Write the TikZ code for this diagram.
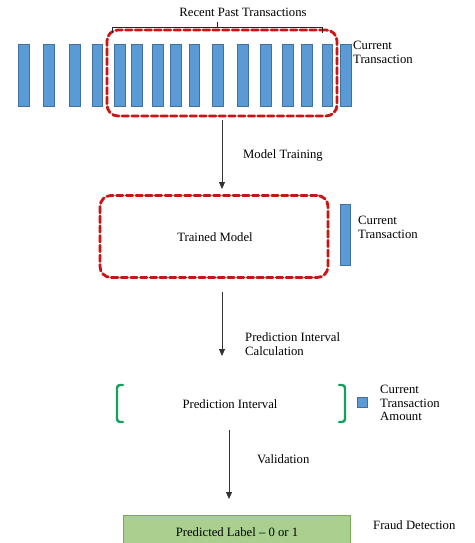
\documentclass[tikz,border=0pt]{standalone}
\usepackage{fontspec}
\setmainfont{Liberation Serif}
\usetikzlibrary{arrows.meta}
\definecolor{barblue}{RGB}{91,155,213}
\definecolor{baredge}{RGB}{65,113,156}
\definecolor{dashred}{RGB}{204,20,20}
\definecolor{brgreen}{RGB}{20,160,90}
\definecolor{boxgreen}{RGB}{169,208,142}
\definecolor{boxedge}{RGB}{120,170,90}
\tikzset{
  bar/.style={draw=baredge, line width=0.3pt, fill=barblue, minimum width=10.5pt, minimum height=62pt, inner sep=0pt},
  redbox/.style={draw=dashred, line width=2.8pt, dash pattern=on 6.5pt off 3.2pt, line cap=round, rounded corners=11pt},
  txt/.style={font=\fontsize{12.7}{13.8}\selectfont, inner sep=0pt, align=left},
  ctxt/.style={font=\fontsize{12.7}{13.8}\selectfont, inner sep=0pt, align=center},
  arr/.style={draw=black!80, line width=0.8pt, -{Triangle[width=6pt,length=7pt]}},
  brk/.style={draw=brgreen, line width=2.4pt, line cap=round, rounded corners=3pt}
}
\begin{document}
\begin{tikzpicture}[x=1pt,y=-1pt]
\useasboundingbox (0,0) rectangle (474,543);
% bars
\foreach \i/\x in {1/23.5,2/48.5,3/74.5,4/97,5/119.5,6/136.5,7/157.5,8/175.5,9/194,10/217.5,11/242.5,12/265.5,13/287.5,14/306.5,15/327,16/345.5}{
  \node[bar] (b\i) at (\x,75) {};
}
% red dashed box
\node[redbox, minimum width=230pt, minimum height=86pt] (past) at (222,73) {};
% brace
\draw[black!85, line width=0.6pt] (112,33) -- (112,27.5) -- (322,27.5) -- (322,33);
\draw[black!85, line width=0.6pt] (217,27.5) -- (217,22);
\node[ctxt] (rpt) at (243,12) {Recent Past Transactions};
\node[txt, anchor=west] (ct1) at (353,52) {Current\\Transaction};
% trained model
\node[redbox, minimum width=228pt, minimum height=82pt] (tm) at (214,236.5) {};
\node[ctxt] (tmt) at (215,237) {Trained Model};
\node[bar, minimum height=61pt] (cb) at (345,234.5) {};
\node[txt, anchor=west] (ct2) at (358,227) {Current\\Transaction};
% arrow 1
\coordinate (a1s) at (222,120);
\coordinate (a1e) at (222,189);
\draw[arr] (a1s) -- (a1e);
\node[txt, anchor=west] (mt) at (243,155) {Model Training};
% arrow 2
\coordinate (a2s) at (222,292);
\coordinate (a2e) at (222,356);
\draw[arr] (a2s) -- (a2e);
\node[txt, anchor=west] (pic) at (245,344) {Prediction Interval\\Calculation};
% prediction interval
\draw[brk] (123,385) -- (117,385) -- (117,422) -- (123,422);
\draw[brk] (339,385) -- (345,385) -- (345,422) -- (339,422);
\coordinate (pil) at (117,403.5);
\coordinate (pir) at (345,403.5);
\node[ctxt] (pit) at (230,404) {Prediction Interval};
\node[draw=baredge, line width=0.3pt, fill=barblue, minimum size=10pt, inner sep=0pt] (sq) at (362,402) {};
\node[txt, anchor=west] (cta) at (380,403) {Current\\Transaction\\Amount};
% arrow 3
\coordinate (a3s) at (229,430);
\coordinate (a3e) at (229,499);
\draw[arr] (a3s) -- (a3e);
\node[txt, anchor=west] (val) at (257,459) {Validation};
% predicted label
\node[draw=boxedge, line width=0.6pt, fill=boxgreen, minimum width=227pt, minimum height=32pt, inner sep=0pt] (pl) at (236.5,531) {};
\node[ctxt] (plt) at (237,532) {Predicted Label -- 0 or 1};
\node[txt, anchor=west] (fd) at (373,525) {Fraud Detection};
\end{tikzpicture}
\end{document}
